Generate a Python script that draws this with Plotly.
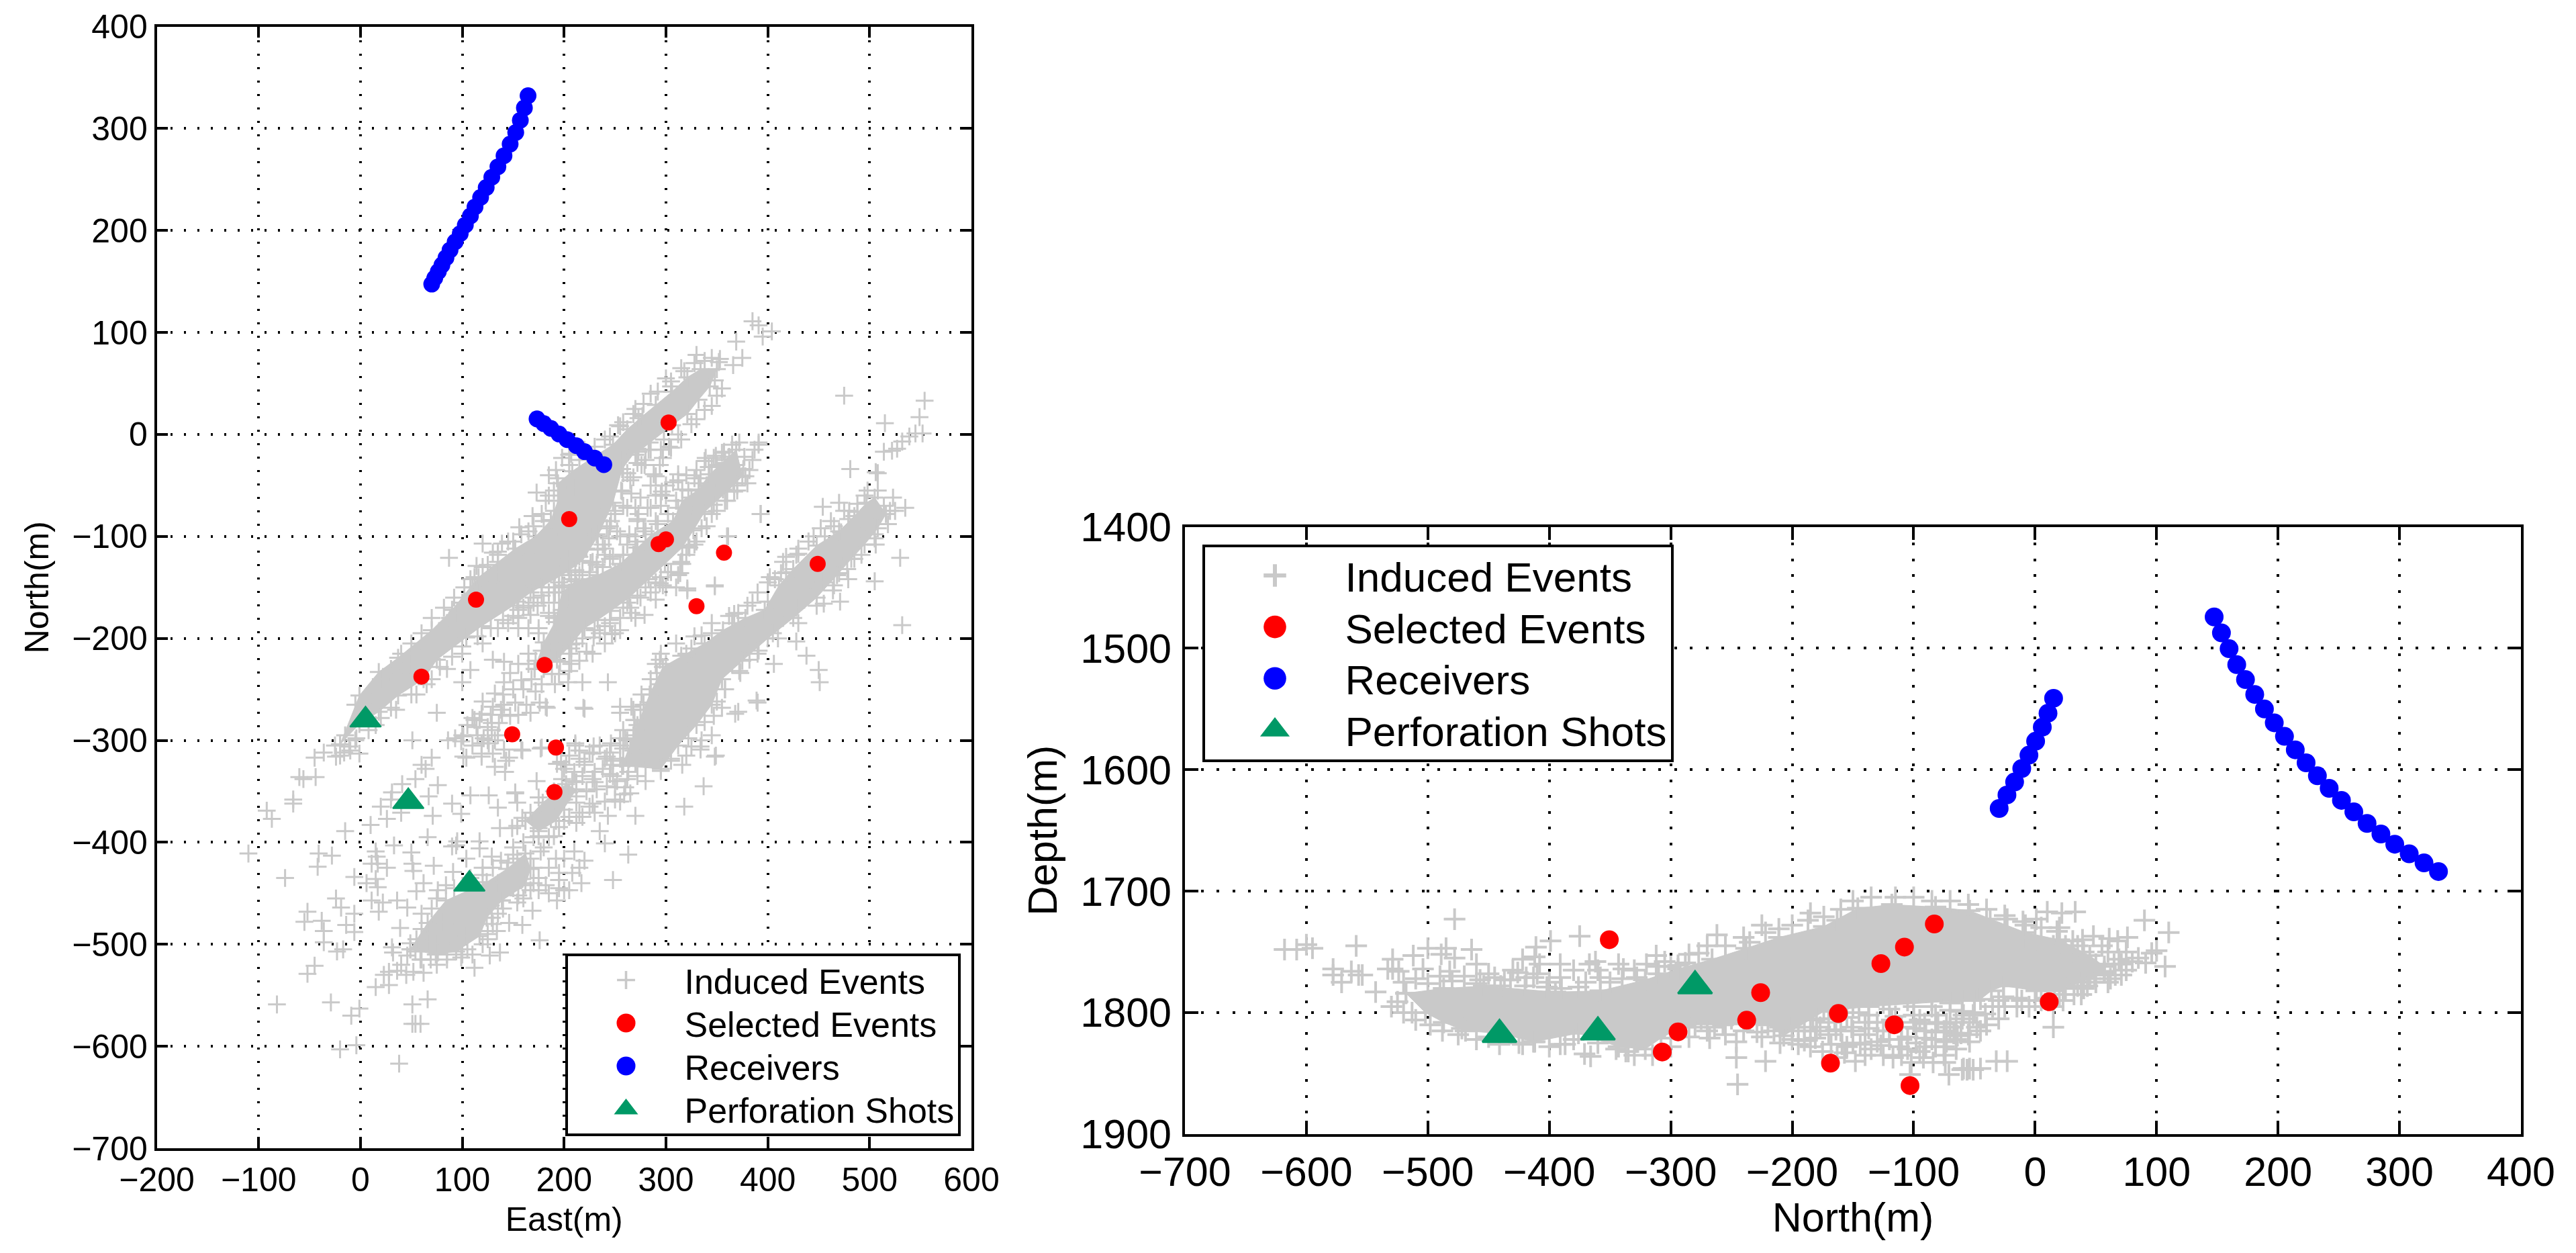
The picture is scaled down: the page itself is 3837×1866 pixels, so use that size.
import plotly.graph_objects as go

# Values (East, North) and (North, Depth), in metres.
selected_east = [302.6, 205, 113.5, 300, 292.8, 357, 449, 330, 180.8, 59.9, 149, 192, 190.5]
selected_north = [11.6, -83, -162, -103, -107.6, -116, -127, -168.5, -226, -237.5, -294, -307, -350.6]
selected_depth = [1791, 1727, 1800.7, 1860, 1746, 1810, 1759.6, 1841.6, 1783.5, 1806.2, 1815.8, 1832.4, 1739.9]

receiver_north = [147.4, 153.4, 159.7, 166, 173.2, 180.8, 188.8, 196.9, 205.3, 214.2, 223.1, 232.4, 242.1, 252.2,
                  262.4, 273.3, 284.7, 296.1, 308, 320.2, 332.1,
                  -29.6, -23.2, -16.9, -11, -5.1, 0.4, 5.9, 10.6, 15.2]
receiver_east = [70, 73, 76.5, 80, 84, 88, 93, 98, 103, 108, 112.5, 118, 123.5, 129,
                 135, 141, 147, 152.5, 157, 161, 164.6,
                 239, 230, 220, 212, 203, 195, 187, 180, 173.4]
receiver_depth = [1474.2, 1487.3, 1500.4, 1513.5, 1525.8, 1538, 1550, 1561.4, 1572.5, 1583.6, 1594.3, 1605, 1615.3,
                  1625.2, 1634.7, 1644.2, 1652.9, 1661.3, 1669.2, 1676.7, 1683.8,
                  1631.9, 1620.8, 1610.1, 1599, 1588, 1576.5, 1565, 1553.5, 1541.2]

shot_east = [5, 47, 107]
shot_north = [-280, -360, -441]
shot_depth = [1778, 1816, 1818]

# Individually readable crosses, map view (East, North)
induced_map = [
    (-110,-411),(-41,-411),(-28,-413),(-42,-424),(-74,-435),(-6,-434),(-24,-455),(-19,-464),(-52,-468),(-55,-478),
    (-38,-477),(-36,-487),(-36,-498),(-23,-507),(-17,-505),(-6,-470),(-14,-481),(-6,-488),(-45,-521),(-52,-529),
    (-82,-559),(-29,-557),(-1,-563),(-9,-570),(-20,-603),(-4,-599),(38,-617),(51,-559),(66,-554),(51,-578),(54,-578),
    (59,-578),(15,-542),(28,-540),(23,-530),(36,-526),(52,-527),(62,-528),(28,-527),(32,-508),(31,-503),(46,-511),
    (54,-507),(59,-515),(69,-515),(76,-508),(15,-409),(16,-414),(17,-421),(33,-403),(50,-410),(51,-421),(52,-428),
    (26,-425),(11,-421),(15,-436),(6,-440),(17,-444),(11,-457),(22,-459),(36,-457),(18,-468),(46,-464),(39,-484),
    (55,-448),(62,-440),(72,-423),(95,-399),(90,-404),(66,-395),(-15,-389),(10,-383),(26,-377),(20,-365),(30,-358),
    (40,-371),(31,-351),(41,-343),(54,-338),(64,-328),(60,-324),(70,-317),(76,-344),(67,-355),(71,-374),(90,-362),
    (99,-372),(108,-354),(126,-354),(135,-366),(152,-352),(154,-361),(51,-300),(75,-273),(-92,-369),(-87,-377),
    (-66,-358),(-66,-362),(-60,-336),(-56,-338),(-44,-336),(-45,-317),(-36,-312),(-24,-316),(-16,-312),(-11,-306),
    (-1,-313),(-4,-298),(100,-295),(86,-300),(99,-301),(104,-317),(119,-316),(126,-303),(132,-326),(142,-331),
    (146,-317),(129,-283),(117,-280),(139,-275),(159,-310),(177,-308),(129,-290),(119,-303),(112,-280),(167,-273),
    (183,-268),(220,-269),(255,-273),(269,-280),(137,-386),(154,-384),(175,-386),(190,-394),(175,-394),(200,-379),
    (212,-381),(235,-389),(240,-401),(263,-412),(248,-437),(217,-440),(205,-447),(193,-457),(176,-496),(159,-481),
    (146,-479),(169,-467),(154,-459),(134,-487),(137,-508),(127,-511),(112,-523),(99,-513),(192,-416),(200,-416),
    (220,-418),(177,-409),(210,-409),(167,-416),(154,-416),(129,-414),(117,-399),(117,-406),(94,-403),(104,-416),
    (91,-429),(84,-442),(76,-447),(175,-447),(182,-442),(195,-437),(167,-447),(200,-447),(159,-436),(215,-371),
    (230,-371),(243,-374),(200,-368),(187,-376),(170,-379),(159,-376),(149,-386),(167,-371),(175,-356),(152,-351),
    (173,-340),(205,-351),(212,-361),(225,-365),(250,-358),(259,-353),(270,-374),(211,-303),(229,-306),(246,-303),
    (260,-298),(268,-295),(200,-328),(210,-331),(230,-331),(245,-333),(263,-331),(197,-321),(220,-321),(240,-318),
    (255,-318),(212,-341),(230,-341),(250,-346),(260,-346),(49,-499),(59,-505),(66,-497),(76,-499),(86,-492),
    (96,-499),(104,-492),(117,-487),(129,-474),(139,-457),(87,-121),(173,-57),(207,-19),(120,-107),(114,-129),
    (108,-142),(130,-116),(139,-107),(156,-91),(169,-80),(193,-43),(198,-23),(211,-52),(237,-72),(246,-85),
    (257,-56),(266,-58),(270,-72),(272,-85),(290,-41),(294,-30),(283,-15),(303,-12),(244,-102),(228,-100),(233,-113),
    (255,-100),(264,-98),(215,-100),(204,-129),(211,-133),(191,-135),(180,-142),(163,-149),(154,-164),(174,-168),
    (185,-175),(167,-177),(191,-155),(207,-142),(272,-83),(296,-56),(312,-39),(338,-26),(349,-21),(358,-28),(391,-10),
    (393,-78),(367,-30),(316,-54),(334,-43),(307,-47),(334,-67),(347,-69),(356,-54),(327,-76),(316,-78),(323,-111),
    (314,-127),(312,-138),(294,-146),(321,-153),(348,-149),(360,-100),(290,-162),(279,-177),(266,-175),(250,-195),
    (247,-196),(229,-199),(222,-213),(207,-210),(196,-223),(207,-225),(218,-243),(204,-243),(243,-243),(191,-245),
    (178,-245),(165,-225),(141,-223),(130,-221),(147,-234),(158,-241),(141,-243),(132,-254),(108,-231),(100,-243),
    (163,-265),(152,-263),(141,-265),(130,-267),(119,-274),(110,-278),(176,-263),(182,-267),(219,-268),(147,-276),
    (136,-283),(125,-287),(114,-287),(101,-296),(93,-298),(121,-298),(132,-300),(141,-309),(130,-313),(119,-313),
    (158,-309),(143,-320),(101,-316),(178,-307),(255,-267),(266,-267),(269,-280),(286,-263),(294,-221),(315,-217),
    (291,-234),(294,-245),(335,-197),(347,-276),(371,-272),(389,-261),(358,-250),(373,-234),(382,-221),(391,-212),
    (367,-176),(371,-175),(325,-306),(348,-316),(316,-324),(334,-309),(211,-305),(215,-318),(228,-313),(242,-316),
    (255,-298),(264,-318),(277,-316),(202,-324),(193,-323),(220,-324),(246,-324),(385,111),(391,107),(395,96),
    (404,101),(369,91),(375,75),(366,68),(353,74),(352,71),(348,53),(305,47),(475,38),(554,33),(549,17),(515,11),
    (481,-34),(506,-37),(508,-38),(545,1),(552,1),(539,-2),(532,-7),(527,-14),(522,-16),(514,-17),(535,-72),(523,-62),
    (514,-70),(470,-67),(454,-71),(393,-78),(503,-74),(488,-76),(479,-83),(506,-108),(530,-121),(505,-144),(456,-100),
    (361,-100),(348,-148),(472,-96),(492,-100),(485,-122),(479,-142),(470,-136),(418,-120),(430,-117),(407,-142),
    (413,-136),(455,-166),(471,-164),(400,-164),(464,-153),(391,-8),(387,-15),(377,-22),(357,-17),(339,-23),(347,-23),
    (376,-34),(378,-41),(366,-48),(367,-56),(297,-23),(288,-39),(279,-30),(328,-43),(312,-45),(295,-59),(282,-72),
    (273,-78),(253,9),(273,16),(305,-13),(316,-127),(314,-136),(322,-109),(321,-151),(297,-148),(532,-187),(450,-231),
    (451,-243),(390,-263),(368,-274),(349,-315),(428,-203),(406,-225),(438,-217),(334,-306),(337,-345),(318,-365),
    # meshes beside the solid bands
    (240,-60),(250,-75),(236,-85),(252,-95),(262,-72),(262,-108),(275,-62),(278,-92),(285,-72),(240,-112),(248,-120),
    (222,-112),(215,-120),(226,-126),(232,-98),(258,-118),(270,-100),(290,-60),(300,-50),(285,-50),(268,-42),(276,-30),
    (258,-38),(255,-25),(270,-20),(205,-122),(195,-145),(185,-155),(178,-150),(170,-160),(160,-170),(150,-178),
    (180,-165),(195,-165),(205,-165),(190,-180),(175,-190),(165,-190),(155,-190),(145,-185),(212,-170),(222,-165),
    (198,-172),(300,-60),(310,-65),(295,-70),(320,-40),(330,-35),(345,-32),(340,-50),(352,-42),(360,-35),(325,-62),
    (290,-85),(280,-105),(268,-118),(262,-130),(250,-135),(238,-130),(235,-195),(245,-185),(255,-180),(265,-170),
    (275,-160),(285,-155),(295,-140),(305,-135),(320,-118),(330,-105),(340,-90),(350,-75),(360,-65),(370,-55),(380,-48),
    (300,-150),(310,-150),(270,-180),(255,-192),(240,-205),(228,-215),(215,-222),(205,-232),(195,-235),(212,-205),
    (195,-205),(165,-215),(172,-222),(180,-230),(168,-240),(155,-225),(178,-212),(188,-235),(160,-250),(150,-250),
    (172,-252),(140,-255),(120,-262),(128,-275),(138,-270),(155,-275),(115,-295),(125,-300),(110,-305),(135,-295),
    (105,-285),(285,-250),(278,-265),(270,-290),(262,-300),(268,-310),(355,-240),(365,-225),(380,-205),(395,-195),
    (405,-195),(415,-180),(428,-170),(442,-150),(455,-145),(465,-125),(480,-110),(495,-95),(505,-98),(520,-75),(508,-55),
    (495,-60),(480,-75),(465,-90),(445,-100),(430,-112),(418,-135),(400,-145),(385,-165),(365,-185),(345,-195),(325,-210),
    (300,-225),(290,-225),(275,-270),(258,-290),(355,-268),(345,-295),(335,-300),(320,-315),(305,-320),(295,-330),
    (280,-340),(205,-315),(215,-310),(225,-312),(235,-305),(245,-312),(255,-305),(265,-308),(275,-312),(285,-318),
    (280,-325),(270,-322),(258,-325),(248,-335),(238,-328),(228,-338),(218,-335),(208,-340),(198,-338),(190,-350),
    (200,-358),(212,-355),(222,-350),(232,-348),(242,-345),(252,-340),(262,-338),(272,-335),(265,-352),(255,-360),
    (240,-360),(228,-362),(218,-375),(205,-375),(195,-385),(185,-395),(180,-405),(170,-395),(160,-400),(150,-405),
    (145,-420),(130,-425),(120,-425),(135,-440),(170,-425),(185,-425),(195,-430),(175,-435),(185,-450),(195,-445),
    (208,-430),(215,-425),(160,-455),(150,-445),(128,-462),(110,-465),(60,-485),(70,-490),(55,-495),(80,-478),(90,-470),
    (70,-465),(100,-480),(110,-480),(75,-520),(85,-510),(40,-520),(45,-530),(100,-510),(110,-510),(120,-500),(125,-490),
    (135,-470),(60,-195),(50,-205),(40,-215),(30,-230),(20,-240),(10,-255),(-5,-265),(88,-180),(100,-165),(110,-150),
    (120,-130),(135,-118),(150,-105),(165,-95),(180,-85),(185,-60),(185,-40),(205,-30),(220,-15),(240,-5),(255,8),
    (270,25),(285,40),(300,55),(315,65),(330,78),(345,75),(85,-230),(70,-240),(55,-255),(35,-270),(15,-285),(100,-215),
    (120,-205),(135,-190),(155,-180),(170,-165),(210,-150),(225,-135),(240,-118),(245,-90),(258,-70),(265,-45),(280,-25),
    (295,-15),(315,-5),(330,15),(345,28),(355,45),(-5,-300),(-15,-295),(-25,-305),(-10,-310),(-20,-315),
    # flanks of the three bands
    (70,-180),(82,-170),(92,-160),(102,-150),(112,-140),(125,-128),(135,-115),(145,-105),(158,-98),(170,-90),(178,-78),
    (182,-65),(190,-55),(192,-35),(205,-20),(215,-25),(230,-12),(245,-2),(258,12),(268,20),(278,30),(292,42),(305,52),
    (318,62),(328,70),(338,72),(60,-210),(50,-225),(40,-235),(28,-250),(85,-185),(95,-175),(105,-165),(115,-155),
    (125,-145),(135,-135),(148,-125),(160,-118),(172,-108),(185,-98),(190,-75),(200,-148),(190,-150),(178,-158),
    (165,-168),(155,-172),(140,-182),(128,-190),(115,-198),(100,-208),(90,-218),(78,-228),(65,-245),(50,-255),(30,-268),
    (20,-278),(8,-290),(215,-138),(228,-125),(238,-108),(242,-92),(250,-78),(256,-55),(262,-38),(272,-28),(285,-15),
    (298,-5),(312,0),(325,10),(338,24),(350,38),(212,-148),(225,-142),(205,-155),(175,-195),(185,-178),(190,-165),
    (195,-150),(205,-135),(218,-135),(232,-128),(245,-122),(258,-118),(270,-105),(280,-95),(292,-88),(302,-78),(312,-72),
    (322,-55),(332,-48),(342,-32),(355,-18),(365,-10),(372,-8),(350,-30),(362,-22),(205,-215),(218,-200),(230,-192),
    (245,-182),(258,-170),(272,-158),(290,-145),(302,-135),(315,-125),(328,-108),(335,-92),(345,-78),(358,-65),(370,-50),
    (382,-35),(385,-25),(262,-165),(280,-150),(240,-188),(268,-270),(276,-255),(285,-240),(295,-215),(310,-205),(328,-198),
    (345,-185),(362,-178),(380,-168),(390,-155),(402,-140),(415,-125),(428,-118),(440,-105),(452,-92),(462,-85),(475,-75),
    (488,-68),(498,-55),(525,-75),(518,-88),(505,-102),(492,-118),(478,-132),(465,-148),(448,-168),(430,-185),(410,-200),
    (390,-215),(372,-232),(358,-250),(350,-262),(338,-282),(322,-298),(305,-318),(372,-215),(350,-240),(258,-308),(248,-320),
    (60,-470),(75,-455),(92,-445),(108,-435),(120,-432),(138,-418),(150,-412),(170,-440),(155,-452),(140,-465),(130,-480),
    (125,-495),(105,-505),(85,-515),(60,-515),
]

# Individually readable crosses, section view (North, Depth)
induced_section = [
    (-478,1723),(-559,1745),(-578,1764),(-578,1769),(-571,1775),(-563,1766),(-557,1769),(-554,1769),(-543,1783),
    (-529,1764),(-529,1756),(-533,1764),(-524,1766),(-525,1791),(-512,1753),(-513,1800),(-500,1747),(-489,1752),
    (-485,1747),(-478,1755),(-464,1748),(-460,1760),(-482,1766),(-504,1764),(-445,1771),(-472,1813),(-441,1826),
    (-422,1756),(-411,1746),(-412,1754),(-399,1741),(-375,1737),(-391,1760),(-408,1760),(-419,1771),(-432,1773),
    (-362,1758),(-367,1760),(-358,1771),(-343,1760),(-339,1764),(-328,1771),(-391,1826),(-387,1826),(-366,1836),
    (-371,1834),(-337,1832),(-335,1832),(-422,1826),(-412,1824),(-391,1771),(-376,1779),(-413,1771),(-402,1779),
    (-457,1773),(-437,1773),(-426,1767),(-262,1736),(-277,1751),(-312,1753),(-288,1759),(-294,1761),(-305,1758),
    (-312,1762),(-211,1731),(-187,1724),(-174,1721),(-163,1724),(-222,1734),(-235,1742),(-268,1821),(-246,1824),
    (-246,1837),(-222,1840),(-245,1859),(-264,1812),(-280,1812),(-229,1816),(-190,1823),(-181,1821),(-168,1826),
    (-148,1840),(-157,1833),(-163,1837),(-117,1837),(-130,1824),(-144,1826),(-159,1826),(-177,1812),(-164,1814),
    (-151,1812),(-112,1828),(-137,1813),(-98,1813),(-91,1821),(-82,1828),(-73,1824),(-64,1819),(-102,1841),(-103,1851),
    (-92,1837),(-84,1841),(-71,1851),(-74,1841),(-56,1847),(-60,1847),(-51,1847),(-91,1809),(-73,1809),(-54,1808),
    (-60,1799),(-82,1802),(-100,1802),(-118,1806),(-137,1802),(-155,1804),(-183,1806),(-54,1824),(-82,1816),(-48,1812),
    (-127,1827),(-32,1840),(-23,1840),(-45,1846),(-54,1846),(-59,1846),(15,1812),(90,1724),(110,1734),(10,1717),
    (22,1718),(33,1717),(1,1723),(100,1749),(96,1751),(91,1759),(107,1762),(76,1738),(68,1741),(61,1739),(48,1737),
    (39,1740),(31,1741),(71,1760),(66,1769),(71,1769),(69,1756),(43,1778),(32,1785),(23,1790),(38,1785),(49,1769),
    (57,1766),(-11,1790),(-26,1787),(-41,1801),(-51,1802),(-59,1802),(-67,1817),(-61,1817),(-37,1723),(-23,1723),
    (-8,1728),(18,1733),(-618,1748),(-608,1748),(-600,1744),(-595,1747),
    # meshes along the solid cloud
    (-520,1775),(-510,1772),(-500,1776),(-490,1770),(-480,1774),(-470,1770),(-460,1776),(-450,1768),(-440,1778),
    (-430,1765),(-420,1778),(-410,1768),(-400,1775),(-390,1780),(-380,1765),(-370,1775),(-360,1765),(-350,1775),
    (-340,1772),(-330,1765),(-320,1760),(-310,1768),(-300,1762),(-285,1752),(-270,1745),(-255,1745),(-240,1738),
    (-225,1728),(-200,1728),(-185,1718),(-160,1715),(-150,1708),(-135,1705),(-115,1705),(-100,1705),(-85,1708),
    (-70,1708),(-55,1711),(-40,1715),(-25,1720),(-10,1725),(5,1730),(20,1730),(35,1745),(-530,1795),(-520,1800),
    (-510,1806),(-498,1810),(-488,1815),(-475,1818),(-460,1822),(-450,1820),(-425,1825),(-400,1828),(-380,1822),
    (-360,1825),(-345,1830),(-330,1835),(-315,1835),(-300,1828),(-285,1820),(-270,1815),(-255,1818),(-240,1815),
    (-225,1820),(-210,1825),(-200,1822),(-190,1812),(-170,1808),(-160,1815),(-140,1818),(-120,1815),(-105,1820),
    (-90,1815),(-75,1815),(-65,1808),(-50,1800),(-35,1795),(-25,1795),(-15,1795),(-5,1795),(5,1790),(15,1795),(25,1780),
    (40,1780),(50,1775),(60,1775),(-70,1798),(-85,1795),(-100,1795),(-120,1797),(-145,1800),(-130,1808),(-110,1812),
    (-95,1806),(-80,1808),(-65,1830),(-75,1835),(-90,1828),(-105,1830),(-120,1822),(-135,1830),(-150,1825),(-170,1818),
    (-185,1815),(-200,1812),(-210,1812),(75,1750),(85,1755),
    (-50,1790),(-60,1790),(-70,1792),(-85,1790),(-105,1790),(-125,1792),(-150,1795),(-165,1795),(-180,1805),(-195,1815),
    (-215,1815),(-235,1808),(-250,1805),(-275,1805),(-295,1808),(-305,1812),(-40,1810),(-30,1805),(-45,1815),(-55,1818),
    (-65,1822),(-75,1828),(-95,1832),(-110,1835),(-125,1835),(-140,1835),(-155,1828),(-175,1832),(-185,1828),(-195,1826),
    (-100,1808),(-115,1803),(-125,1815),(-140,1808),(-150,1815),(-165,1805),(-180,1815),(-70,1812),(-60,1805),(-85,1822),
    (-98,1825),(-110,1822),(50,1760),(60,1750),(55,1745),(40,1750),(30,1750),(15,1745),(0,1740),(-10,1738),(25,1745),
    (45,1772),(35,1778),(65,1760),(62,1772),(75,1765),(80,1758),(20,1785),(10,1788),(0,1790),(-15,1788),(-30,1790),
]

# Outlines of the parts of the clouds where the crosses merge into solid grey.
# The crosses there cannot be told apart, so the outline stands in for them.
core_band_upper = [(-20,-304),(-1,-256),(18,-233),(37,-219),(70,-192),(90,-172),(116,-140),(135,-125),(152,-112),
                   (172,-100),(187,-84),(194,-65),(194,-48),(208,-36),(226,-24),(248,-10),(262,5),(277,18),(290,29),
                   (306,42),(321,56),(334,64),(350,64),(343,47),(332,34),(321,20),(306,9),(284,-8),(273,-17),(272,-14),
                   (257,-34),(248,-67),(233,-100),(218,-124),(198,-138),(167,-155),(150,-168),(119,-188),(104,-199),
                   (75,-221),(62,-240),(37,-256),(18,-272),(-1,-284)]
core_band_middle = [(171,-230),(180,-204),(191,-184),(198,-155),(211,-144),(233,-138),(255,-127),(272,-111),(286,-98),
                    (307,-85),(316,-65),(332,-54),(343,-39),(358,-25),(369,-15),(375,-41),(360,-56),(338,-76),(327,-94),
                    (316,-111),(299,-127),(283,-142),(264,-160),(246,-173),(233,-182),(220,-190),(207,-206),(193,-221)]
core_band_lower = [(257,-325),(272,-285),(284,-255),(297,-228),(320,-215),(338,-205),(356,-192),(378,-180),(397,-172),
                   (411,-148),(425,-132),(448,-109),(470,-95),(485,-80),(497,-67),(505,-62),(516,-78),(508,-92),(495,-108),
                   (482,-122),(468,-138),(448,-160),(425,-180),(400,-200),(375,-222),(355,-240),(345,-265),(330,-285),
                   (312,-305),(295,-328)]
core_band_foot = [(49,-505),(66,-479),(84,-457),(124,-439),(144,-426),(162,-411),(167,-426),(162,-442),(139,-457),
                  (124,-474),(117,-492),(94,-507),(74,-510)]
core_band_step = [(162,-379),(179,-361),(202,-343),(212,-348),(192,-379),(175,-389)]
core_section = [(-518,1784),(-487,1780),(-454,1778),(-395,1783),(-358,1782),(-321,1773),(-294,1764),(-266,1756),
                (-238,1747),(-211,1738),(-174,1729),(-146,1714),(-118,1711),(-82,1713),(-54,1716),(-8,1734),(20,1740),
                (45,1753),(57,1762),(57,1767),(38,1775),(16,1782),(1,1782),(-26,1778),(-36,1782),(-45,1789),(-137,1795),
                (-174,1799),(-207,1819),(-220,1810),(-257,1810),(-288,1810),(-308,1821),(-321,1830),(-343,1828),
                (-376,1817),(-413,1824),(-441,1817),(-469,1815),(-487,1808),(-502,1800)]

GREY = "#c9c9c9"
RED = "#ff0000"
BLUE = "#0000ff"
GREEN = "#009966"
FONT = "Liberation Sans"
W, H = 3837, 1866


def add_core(fig, pts, xa, ya, size, lw):
    xs = [p[0] for p in pts] + [pts[0][0]]
    ys = [p[1] for p in pts] + [pts[0][1]]
    fig.add_trace(go.Scatter(x=xs, y=ys, mode="lines+markers", fill="toself", fillcolor=GREY,
                             line=dict(color=GREY, width=1),
                             marker=dict(symbol="cross-thin", size=size, line=dict(color=GREY, width=lw)),
                             showlegend=False, xaxis=xa, yaxis=ya, hoverinfo="skip"))


fig = go.Figure()

# Left panel: map view
for core in (core_band_upper, core_band_middle, core_band_lower, core_band_foot, core_band_step):
    add_core(fig, core, "x", "y", 19, 3)
fig.add_trace(go.Scatter(x=[p[0] for p in induced_map], y=[p[1] for p in induced_map], mode="markers",
                         name="Induced Events", xaxis="x", yaxis="y", legend="legend",
                         marker=dict(symbol="cross-thin", size=19, line=dict(color=GREY, width=3))))
fig.add_trace(go.Scatter(x=selected_east, y=selected_north, mode="markers", name="Selected Events",
                         xaxis="x", yaxis="y", legend="legend", marker=dict(symbol="circle", size=24, color=RED)))
fig.add_trace(go.Scatter(x=receiver_east, y=receiver_north, mode="markers", name="Receivers",
                         xaxis="x", yaxis="y", legend="legend", marker=dict(symbol="circle", size=25, color=BLUE)))
fig.add_trace(go.Scatter(x=shot_east, y=shot_north, mode="markers", name="Perforation Shots",
                         xaxis="x", yaxis="y", legend="legend",
                         marker=dict(symbol="triangle-up", size=40, color=GREEN, line=dict(color=GREEN, width=2))))

# Right panel: section view
add_core(fig, core_section, "x2", "y2", 23, 4)
fig.add_trace(go.Scatter(x=[p[0] for p in induced_section], y=[p[1] for p in induced_section], mode="markers",
                         name="Induced Events", xaxis="x2", yaxis="y2", legend="legend2",
                         marker=dict(symbol="cross-thin", size=23, line=dict(color=GREY, width=4))))
fig.add_trace(go.Scatter(x=selected_north, y=selected_depth, mode="markers", name="Selected Events",
                         xaxis="x2", yaxis="y2", legend="legend2", marker=dict(symbol="circle", size=28, color=RED)))
fig.add_trace(go.Scatter(x=receiver_north, y=receiver_depth, mode="markers", name="Receivers",
                         xaxis="x2", yaxis="y2", legend="legend2", marker=dict(symbol="circle", size=28, color=BLUE)))
fig.add_trace(go.Scatter(x=shot_north, y=shot_depth, mode="markers", name="Perforation Shots",
                         xaxis="x2", yaxis="y2", legend="legend2",
                         marker=dict(symbol="triangle-up", size=44, color=GREEN, line=dict(color=GREEN, width=3))))


def axis(rng, dtick, dom, anchor, size, ticklen, dash, title, standoff, labelgap=0):
    return dict(range=rng, dtick=dtick, tick0=0, domain=dom, anchor=anchor, showgrid=True, gridcolor="black",
                gridwidth=3.5, griddash=dash, zeroline=False, showline=True, linecolor="black", linewidth=3.5,
                mirror="allticks", ticks="inside", ticklen=ticklen, tickwidth=3.5, tickcolor="black",
                ticklabelstandoff=labelgap,
                tickfont=dict(family=FONT, size=size, color="black"),
                title=dict(text=title, font=dict(family=FONT, size=size, color="black"), standoff=standoff),
                automargin=False)


fig.update_layout(
    width=W, height=H, paper_bgcolor="white", plot_bgcolor="white",
    margin=dict(l=0, r=0, t=0, b=0), font=dict(family=FONT, color="black"),
    xaxis=axis([-200, 600], 100, [233.5 / W, 1447 / W], "y", 50, 17, "3.5px,16.5px", "East(m)", 15),
    yaxis=axis([-700, 400], 100, [1 - 1710 / H, 1 - 39.5 / H], "x", 50, 17, "3.5px,16.5px", "North(m)", 20),
    xaxis2=axis([-700, 400], 100, [1765 / W, 3755 / W], "y2", 61, 20, "4px,19.5px", "North(m)", 14),
    yaxis2=axis([1900, 1400], 100, [1 - 1689 / H, 1 - 784.5 / H], "x2", 61, 20, "4px,19.5px", "Depth(m)", 16, 4),
    legend=dict(x=842 / W, y=1 - 1420 / H, xanchor="left", yanchor="top", bgcolor="white", bordercolor="black",
                borderwidth=3.5, itemwidth=164, itemsizing="trace", font=dict(family=FONT, size=52, color="black")),
    legend2=dict(x=1791 / W, y=1 - 811 / H, xanchor="left", yanchor="top", bgcolor="white", bordercolor="black",
                 borderwidth=3.5, itemwidth=199, itemsizing="trace", font=dict(family=FONT, size=62, color="black")),
)

# Plotly caps legend markers at 16px and fixes the row height, so the two legends are tuned after drawing.
LEGEND_TUNE = """
document.body.style.margin='0';
var cfg={legend:{h:64,top:39.5,w:585,hh:268,s:[1.2,1.75,1.75,1.6]},
         legend2:{h:76.6,top:46,w:698,hh:320,s:[1.5,2.1,2.1,1.8]}};
Object.keys(cfg).forEach(function(id){
  var c=cfg[id], g=document.querySelector('g.'+id);
  if(!g) return;
  var bg=g.querySelector('rect.bg');
  bg.setAttribute('height',c.hh); bg.setAttribute('width',c.w);
  g.querySelectorAll('g.traces').forEach(function(t,i){
    var m=/translate\\(([-\\d.]+)/.exec(t.getAttribute('transform'));
    t.setAttribute('transform','translate('+m[1]+','+(c.top+i*c.h)+')');
    t.querySelectorAll('path.scatterpts').forEach(function(p){
      p.setAttribute('transform',(p.getAttribute('transform')||'')+' scale('+c.s[i]+')');
    });
  });
});
"""

fig.write_html("out.html", post_script=LEGEND_TUNE, config={"displayModeBar": False})
